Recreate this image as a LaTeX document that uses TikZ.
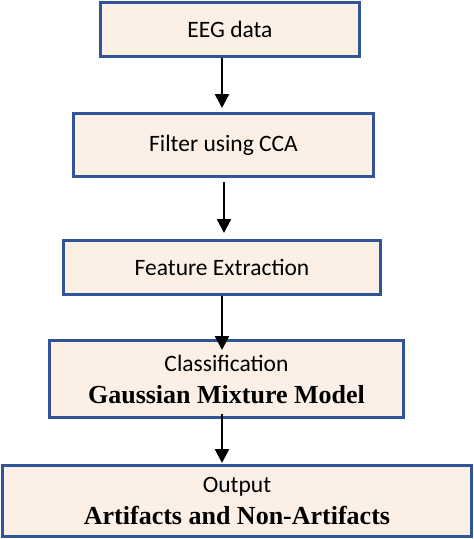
\documentclass[tikz,border=0pt]{standalone}
\usepackage{fontspec}
\setmainfont{Carlito}
\newfontfamily\tnr{Liberation Serif}
\usetikzlibrary{arrows.meta,calc}
\definecolor{boxfill}{HTML}{FCEFE6}
\definecolor{boxline}{HTML}{2F5597}
\tikzset{
  stepbox/.style={draw=boxline, fill=boxfill, line width=2.6pt, inner sep=0pt,
    align=center, font=\fontsize{23.5}{30}\selectfont},
  flowarrow/.style={line width=2.5pt, -{Triangle[width=14pt,length=14pt]}}
}
\newcommand{\bline}[1]{{\tnr\bfseries\fontsize{26}{30}\selectfont #1}}
\begin{document}
\begin{tikzpicture}[x=1pt,y=-1pt]
\fill[white] (0,0) rectangle (474,539);
\useasboundingbox (0,0) rectangle (474,539);
\node[stepbox, minimum width=259.4pt, minimum height=54.4pt] (b1) at (230,29.5) {EEG data};
\node[stepbox, minimum width=300.4pt, minimum height=63.4pt] (b2) at (223.5,145) {Filter using CCA};
\node[stepbox, minimum width=317.4pt, minimum height=54.4pt] (b3) at (222,267.5) {Feature Extraction};
\node[stepbox, minimum width=354.4pt, minimum height=77.4pt] (b4) at (226.5,379) {Classification\\[2pt]\bline{Gaussian Mixture Model}};
\node[stepbox, minimum width=469.4pt, minimum height=71.4pt] (b5) at (237,501) {Output\\[2pt]\bline{Artifacts and Non-Artifacts}};
\coordinate (xa) at (222,0);
\coordinate (xb) at (224,0);
\draw[flowarrow, shorten >=4pt] (b1.south -| xa) -- (b2.north -| xa);
\draw[flowarrow, shorten <=4pt, shorten >=6pt] (b2.south -| xb) -- (b3.north -| xb);
\draw[flowarrow, shorten >=-11pt] (b3.south -| xa) -- (b4.north -| xa);
\draw[flowarrow, shorten <=-5pt, shorten >=1pt] (b4.south -| xa) -- (b5.north -| xa);
\end{tikzpicture}
\end{document}
